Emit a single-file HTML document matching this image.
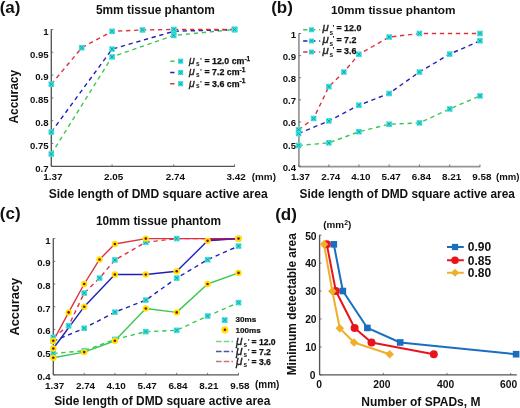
<!DOCTYPE html>
<html><head><meta charset="utf-8"><title>Figure</title>
<style>html,body{margin:0;padding:0;background:#fff;}svg{display:block;filter:blur(0.35px);}text{font-family:"Liberation Sans", Arial, sans-serif;}</style>
</head><body>
<svg width="520" height="408" viewBox="0 0 520 408">
<rect width="520" height="408" fill="#fff"/>
<line x1="51.30" y1="29.20" x2="51.30" y2="166.30" stroke="#555" stroke-width="1.35" />
<line x1="51.30" y1="166.30" x2="234.87" y2="166.30" stroke="#555" stroke-width="1.35" />
<line x1="51.30" y1="29.50" x2="53.30" y2="29.50" stroke="#555" stroke-width="0.8" />
<text x="48.60" y="34.80" font-size="9.6" text-anchor="end" font-weight="bold" fill="#111" >1</text>
<line x1="51.30" y1="52.30" x2="53.30" y2="52.30" stroke="#555" stroke-width="0.8" />
<text x="48.60" y="57.60" font-size="9.6" text-anchor="end" font-weight="bold" fill="#111" >0.95</text>
<line x1="51.30" y1="75.10" x2="53.30" y2="75.10" stroke="#555" stroke-width="0.8" />
<text x="48.60" y="80.40" font-size="9.6" text-anchor="end" font-weight="bold" fill="#111" >0.9</text>
<line x1="51.30" y1="97.90" x2="53.30" y2="97.90" stroke="#555" stroke-width="0.8" />
<text x="48.60" y="103.20" font-size="9.6" text-anchor="end" font-weight="bold" fill="#111" >0.85</text>
<line x1="51.30" y1="120.70" x2="53.30" y2="120.70" stroke="#555" stroke-width="0.8" />
<text x="48.60" y="126.00" font-size="9.6" text-anchor="end" font-weight="bold" fill="#111" >0.8</text>
<line x1="51.30" y1="143.50" x2="53.30" y2="143.50" stroke="#555" stroke-width="0.8" />
<text x="48.60" y="148.80" font-size="9.6" text-anchor="end" font-weight="bold" fill="#111" >0.75</text>
<line x1="51.30" y1="166.30" x2="53.30" y2="166.30" stroke="#555" stroke-width="0.8" />
<text x="48.60" y="171.60" font-size="9.6" text-anchor="end" font-weight="bold" fill="#111" >0.7</text>
<line x1="51.30" y1="166.30" x2="51.30" y2="164.30" stroke="#555" stroke-width="0.8" />
<text x="52.90" y="180.00" font-size="9.9" text-anchor="middle" font-weight="bold" fill="#111" >1.37</text>
<line x1="112.09" y1="166.30" x2="112.09" y2="164.30" stroke="#555" stroke-width="0.8" />
<text x="113.69" y="180.00" font-size="9.9" text-anchor="middle" font-weight="bold" fill="#111" >2.05</text>
<line x1="173.78" y1="166.30" x2="173.78" y2="164.30" stroke="#555" stroke-width="0.8" />
<text x="175.38" y="180.00" font-size="9.9" text-anchor="middle" font-weight="bold" fill="#111" >2.74</text>
<line x1="234.57" y1="166.30" x2="234.57" y2="164.30" stroke="#555" stroke-width="0.8" />
<text x="236.17" y="180.00" font-size="9.9" text-anchor="middle" font-weight="bold" fill="#111" >3.42</text>
<text x="251.80" y="180.00" font-size="9.9" text-anchor="start" font-weight="bold" fill="#111" >(mm)</text>
<text x="95.90" y="14.00" font-size="11.9" text-anchor="start" font-weight="bold" fill="#111" >5mm tissue phantom</text>
<text x="-0.30" y="12.60" font-size="17.0" text-anchor="start" font-weight="bold" fill="#111" >(a)</text>
<text transform="translate(17.9,96.7) rotate(-90)" font-size="11.9" font-weight="bold" text-anchor="middle" fill="#111">Accuracy</text>
<text x="48.70" y="197.80" font-size="12.05" text-anchor="start" font-weight="bold" fill="#111" >Side length of DMD square active area</text>
<polyline points="51.30,153.99 112.09,56.86 173.78,35.43 234.57,29.50" fill="none" stroke="#3cc850" stroke-width="1.4" stroke-dasharray="4.3,3.7" stroke-linejoin="round"/>
<polyline points="51.30,132.10 112.09,49.11 173.78,31.32 234.57,29.50" fill="none" stroke="#2020b8" stroke-width="1.4" stroke-dasharray="4.3,3.7" stroke-linejoin="round"/>
<polyline points="51.30,84.22 81.70,47.74 112.09,31.32 142.49,29.96 173.78,29.50 234.57,29.50" fill="none" stroke="#e03040" stroke-width="1.4" stroke-dasharray="4.3,3.7" stroke-linejoin="round"/>
<rect x="48.50" y="151.19" width="5.6" height="5.6" fill="#3ee0de"/>
<path d="M49.50,152.19L53.10,155.79M53.10,152.19L49.50,155.79" stroke="#1aa0a8" stroke-width="1"/>
<rect x="109.29" y="54.06" width="5.6" height="5.6" fill="#3ee0de"/>
<path d="M110.29,55.06L113.89,58.66M113.89,55.06L110.29,58.66" stroke="#1aa0a8" stroke-width="1"/>
<rect x="170.98" y="32.63" width="5.6" height="5.6" fill="#3ee0de"/>
<path d="M171.98,33.63L175.58,37.23M175.58,33.63L171.98,37.23" stroke="#1aa0a8" stroke-width="1"/>
<rect x="231.77" y="26.70" width="5.6" height="5.6" fill="#3ee0de"/>
<path d="M232.77,27.70L236.37,31.30M236.37,27.70L232.77,31.30" stroke="#1aa0a8" stroke-width="1"/>
<rect x="48.50" y="129.30" width="5.6" height="5.6" fill="#3ee0de"/>
<path d="M49.50,130.30L53.10,133.90M53.10,130.30L49.50,133.90" stroke="#1aa0a8" stroke-width="1"/>
<rect x="109.29" y="46.31" width="5.6" height="5.6" fill="#3ee0de"/>
<path d="M110.29,47.31L113.89,50.91M113.89,47.31L110.29,50.91" stroke="#1aa0a8" stroke-width="1"/>
<rect x="170.98" y="28.52" width="5.6" height="5.6" fill="#3ee0de"/>
<path d="M171.98,29.52L175.58,33.12M175.58,29.52L171.98,33.12" stroke="#1aa0a8" stroke-width="1"/>
<rect x="231.77" y="26.70" width="5.6" height="5.6" fill="#3ee0de"/>
<path d="M232.77,27.70L236.37,31.30M236.37,27.70L232.77,31.30" stroke="#1aa0a8" stroke-width="1"/>
<rect x="48.50" y="81.42" width="5.6" height="5.6" fill="#3ee0de"/>
<path d="M49.50,82.42L53.10,86.02M53.10,82.42L49.50,86.02" stroke="#1aa0a8" stroke-width="1"/>
<rect x="78.90" y="44.94" width="5.6" height="5.6" fill="#3ee0de"/>
<path d="M79.90,45.94L83.50,49.54M83.50,45.94L79.90,49.54" stroke="#1aa0a8" stroke-width="1"/>
<rect x="109.29" y="28.52" width="5.6" height="5.6" fill="#3ee0de"/>
<path d="M110.29,29.52L113.89,33.12M113.89,29.52L110.29,33.12" stroke="#1aa0a8" stroke-width="1"/>
<rect x="139.69" y="27.16" width="5.6" height="5.6" fill="#3ee0de"/>
<path d="M140.69,28.16L144.29,31.76M144.29,28.16L140.69,31.76" stroke="#1aa0a8" stroke-width="1"/>
<rect x="170.98" y="26.70" width="5.6" height="5.6" fill="#3ee0de"/>
<path d="M171.98,27.70L175.58,31.30M175.58,27.70L171.98,31.30" stroke="#1aa0a8" stroke-width="1"/>
<rect x="231.77" y="26.70" width="5.6" height="5.6" fill="#3ee0de"/>
<path d="M232.77,27.70L236.37,31.30M236.37,27.70L232.77,31.30" stroke="#1aa0a8" stroke-width="1"/>
<line x1="170.20" y1="61.20" x2="184.00" y2="61.20" stroke="#3cc850" stroke-width="1.4" stroke-dasharray="4.3,3.7"/>
<rect x="178.00" y="58.60" width="5.2" height="5.2" fill="#3ee0de"/>
<path d="M179.00,59.60L182.20,62.80M182.20,59.60L179.00,62.80" stroke="#1aa0a8" stroke-width="1"/>
<text x="189.00" y="64.10" font-size="10.5" font-family="'Liberation Serif', serif" font-style="italic" fill="#222" stroke="#222" stroke-width="0.35">&#956;</text>
<text x="196.00" y="65.90" font-size="6.5" font-weight="bold" fill="#222">s</text>
<text x="200.00" y="63.10" font-size="8" font-weight="bold" fill="#222">'</text>
<text x="204.50" y="64.10" font-size="8.8" font-weight="bold" fill="#111" stroke="#111" stroke-width="0.25">= 12.0 cm<tspan dy="-3.4" font-size="6.5">-1</tspan></text>
<line x1="170.20" y1="72.50" x2="184.00" y2="72.50" stroke="#2020b8" stroke-width="1.4" stroke-dasharray="4.3,3.7"/>
<rect x="178.00" y="69.90" width="5.2" height="5.2" fill="#3ee0de"/>
<path d="M179.00,70.90L182.20,74.10M182.20,70.90L179.00,74.10" stroke="#1aa0a8" stroke-width="1"/>
<text x="189.00" y="75.40" font-size="10.5" font-family="'Liberation Serif', serif" font-style="italic" fill="#222" stroke="#222" stroke-width="0.35">&#956;</text>
<text x="196.00" y="77.20" font-size="6.5" font-weight="bold" fill="#222">s</text>
<text x="200.00" y="74.40" font-size="8" font-weight="bold" fill="#222">'</text>
<text x="204.50" y="75.40" font-size="8.8" font-weight="bold" fill="#111" stroke="#111" stroke-width="0.25">= 7.2 cm<tspan dy="-3.4" font-size="6.5">-1</tspan></text>
<line x1="170.20" y1="83.70" x2="184.00" y2="83.70" stroke="#e03040" stroke-width="1.4" stroke-dasharray="4.3,3.7"/>
<rect x="178.00" y="81.10" width="5.2" height="5.2" fill="#3ee0de"/>
<path d="M179.00,82.10L182.20,85.30M182.20,82.10L179.00,85.30" stroke="#1aa0a8" stroke-width="1"/>
<text x="189.00" y="86.60" font-size="10.5" font-family="'Liberation Serif', serif" font-style="italic" fill="#222" stroke="#222" stroke-width="0.35">&#956;</text>
<text x="196.00" y="88.40" font-size="6.5" font-weight="bold" fill="#222">s</text>
<text x="200.00" y="85.60" font-size="8" font-weight="bold" fill="#222">'</text>
<text x="204.50" y="86.60" font-size="8.8" font-weight="bold" fill="#111" stroke="#111" stroke-width="0.25">= 3.6 cm<tspan dy="-3.4" font-size="6.5">-1</tspan></text>
<line x1="298.90" y1="33.20" x2="298.90" y2="166.70" stroke="#959595" stroke-width="1.7" />
<line x1="298.90" y1="166.70" x2="480.26" y2="166.70" stroke="#959595" stroke-width="1.7" />
<line x1="298.90" y1="33.50" x2="301.10" y2="33.50" stroke="#666" stroke-width="0.9" />
<text x="296.00" y="37.90" font-size="9.6" text-anchor="end" font-weight="bold" fill="#111" >1</text>
<line x1="298.90" y1="55.63" x2="301.10" y2="55.63" stroke="#666" stroke-width="0.9" />
<text x="296.00" y="60.03" font-size="9.6" text-anchor="end" font-weight="bold" fill="#111" >0.9</text>
<line x1="298.90" y1="77.76" x2="301.10" y2="77.76" stroke="#666" stroke-width="0.9" />
<text x="296.00" y="82.16" font-size="9.6" text-anchor="end" font-weight="bold" fill="#111" >0.8</text>
<line x1="298.90" y1="99.89" x2="301.10" y2="99.89" stroke="#666" stroke-width="0.9" />
<text x="296.00" y="104.29" font-size="9.6" text-anchor="end" font-weight="bold" fill="#111" >0.7</text>
<line x1="298.90" y1="122.02" x2="301.10" y2="122.02" stroke="#666" stroke-width="0.9" />
<text x="296.00" y="126.42" font-size="9.6" text-anchor="end" font-weight="bold" fill="#111" >0.6</text>
<line x1="298.90" y1="144.15" x2="301.10" y2="144.15" stroke="#666" stroke-width="0.9" />
<text x="296.00" y="148.55" font-size="9.6" text-anchor="end" font-weight="bold" fill="#111" >0.5</text>
<line x1="298.90" y1="166.28" x2="301.10" y2="166.28" stroke="#666" stroke-width="0.9" />
<text x="296.00" y="170.68" font-size="9.6" text-anchor="end" font-weight="bold" fill="#111" >0.4</text>
<line x1="298.60" y1="166.70" x2="298.60" y2="164.50" stroke="#666" stroke-width="0.9" />
<text x="300.50" y="179.60" font-size="9.9" text-anchor="middle" font-weight="bold" fill="#111" >1.37</text>
<line x1="328.86" y1="166.70" x2="328.86" y2="164.50" stroke="#666" stroke-width="0.9" />
<text x="330.76" y="179.60" font-size="9.9" text-anchor="middle" font-weight="bold" fill="#111" >2.74</text>
<line x1="358.91" y1="166.70" x2="358.91" y2="164.50" stroke="#666" stroke-width="0.9" />
<text x="360.81" y="179.60" font-size="9.9" text-anchor="middle" font-weight="bold" fill="#111" >4.10</text>
<line x1="389.17" y1="166.70" x2="389.17" y2="164.50" stroke="#666" stroke-width="0.9" />
<text x="391.07" y="179.60" font-size="9.9" text-anchor="middle" font-weight="bold" fill="#111" >5.47</text>
<line x1="419.43" y1="166.70" x2="419.43" y2="164.50" stroke="#666" stroke-width="0.9" />
<text x="421.33" y="179.60" font-size="9.9" text-anchor="middle" font-weight="bold" fill="#111" >6.84</text>
<line x1="449.70" y1="166.70" x2="449.70" y2="164.50" stroke="#666" stroke-width="0.9" />
<text x="451.60" y="179.60" font-size="9.9" text-anchor="middle" font-weight="bold" fill="#111" >8.21</text>
<line x1="479.96" y1="166.70" x2="479.96" y2="164.50" stroke="#666" stroke-width="0.9" />
<text x="481.86" y="179.60" font-size="9.9" text-anchor="middle" font-weight="bold" fill="#111" >9.58</text>
<text x="496.00" y="179.80" font-size="9.6" text-anchor="start" font-weight="bold" fill="#111" >(mm)</text>
<text x="331.00" y="14.40" font-size="11.8" text-anchor="start" font-weight="bold" fill="#111" >10mm tissue phantom</text>
<text x="271.20" y="12.60" font-size="17.0" text-anchor="start" font-weight="bold" fill="#111" >(b)</text>
<text x="299.60" y="198.10" font-size="11.85" text-anchor="start" font-weight="bold" fill="#111" >Side length of DMD square active area</text>
<polyline points="298.60,145.48 328.86,142.82 358.91,131.76 389.17,124.23 419.43,122.91 449.70,108.96 479.96,95.91" fill="none" stroke="#3cc850" stroke-width="1.4" stroke-dasharray="4.3,3.7" stroke-linejoin="round"/>
<polyline points="298.60,133.53 328.86,120.91 358.91,105.20 389.17,93.47 419.43,72.01 449.70,54.08 479.96,40.80" fill="none" stroke="#2020b8" stroke-width="1.4" stroke-dasharray="4.3,3.7" stroke-linejoin="round"/>
<polyline points="298.60,129.77 313.62,118.48 328.86,86.61 343.88,72.01 358.91,54.30 389.17,37.04 419.43,33.50 479.96,33.50" fill="none" stroke="#e03040" stroke-width="1.4" stroke-dasharray="4.3,3.7" stroke-linejoin="round"/>
<rect x="295.80" y="142.68" width="5.6" height="5.6" fill="#3ee0de"/>
<path d="M296.80,143.68L300.40,147.28M300.40,143.68L296.80,147.28" stroke="#1aa0a8" stroke-width="1"/>
<rect x="326.06" y="140.02" width="5.6" height="5.6" fill="#3ee0de"/>
<path d="M327.06,141.02L330.66,144.62M330.66,141.02L327.06,144.62" stroke="#1aa0a8" stroke-width="1"/>
<rect x="356.11" y="128.96" width="5.6" height="5.6" fill="#3ee0de"/>
<path d="M357.11,129.96L360.71,133.56M360.71,129.96L357.11,133.56" stroke="#1aa0a8" stroke-width="1"/>
<rect x="386.37" y="121.43" width="5.6" height="5.6" fill="#3ee0de"/>
<path d="M387.37,122.43L390.97,126.03M390.97,122.43L387.37,126.03" stroke="#1aa0a8" stroke-width="1"/>
<rect x="416.63" y="120.11" width="5.6" height="5.6" fill="#3ee0de"/>
<path d="M417.63,121.11L421.23,124.71M421.23,121.11L417.63,124.71" stroke="#1aa0a8" stroke-width="1"/>
<rect x="446.90" y="106.16" width="5.6" height="5.6" fill="#3ee0de"/>
<path d="M447.90,107.16L451.50,110.76M451.50,107.16L447.90,110.76" stroke="#1aa0a8" stroke-width="1"/>
<rect x="477.16" y="93.11" width="5.6" height="5.6" fill="#3ee0de"/>
<path d="M478.16,94.11L481.76,97.71M481.76,94.11L478.16,97.71" stroke="#1aa0a8" stroke-width="1"/>
<rect x="295.80" y="130.73" width="5.6" height="5.6" fill="#3ee0de"/>
<path d="M296.80,131.73L300.40,135.33M300.40,131.73L296.80,135.33" stroke="#1aa0a8" stroke-width="1"/>
<rect x="326.06" y="118.11" width="5.6" height="5.6" fill="#3ee0de"/>
<path d="M327.06,119.11L330.66,122.71M330.66,119.11L327.06,122.71" stroke="#1aa0a8" stroke-width="1"/>
<rect x="356.11" y="102.40" width="5.6" height="5.6" fill="#3ee0de"/>
<path d="M357.11,103.40L360.71,107.00M360.71,103.40L357.11,107.00" stroke="#1aa0a8" stroke-width="1"/>
<rect x="386.37" y="90.67" width="5.6" height="5.6" fill="#3ee0de"/>
<path d="M387.37,91.67L390.97,95.27M390.97,91.67L387.37,95.27" stroke="#1aa0a8" stroke-width="1"/>
<rect x="416.63" y="69.21" width="5.6" height="5.6" fill="#3ee0de"/>
<path d="M417.63,70.21L421.23,73.81M421.23,70.21L417.63,73.81" stroke="#1aa0a8" stroke-width="1"/>
<rect x="446.90" y="51.28" width="5.6" height="5.6" fill="#3ee0de"/>
<path d="M447.90,52.28L451.50,55.88M451.50,52.28L447.90,55.88" stroke="#1aa0a8" stroke-width="1"/>
<rect x="477.16" y="38.00" width="5.6" height="5.6" fill="#3ee0de"/>
<path d="M478.16,39.00L481.76,42.60M481.76,39.00L478.16,42.60" stroke="#1aa0a8" stroke-width="1"/>
<rect x="295.80" y="126.97" width="5.6" height="5.6" fill="#3ee0de"/>
<path d="M296.80,127.97L300.40,131.57M300.40,127.97L296.80,131.57" stroke="#1aa0a8" stroke-width="1"/>
<rect x="310.82" y="115.68" width="5.6" height="5.6" fill="#3ee0de"/>
<path d="M311.82,116.68L315.42,120.28M315.42,116.68L311.82,120.28" stroke="#1aa0a8" stroke-width="1"/>
<rect x="326.06" y="83.81" width="5.6" height="5.6" fill="#3ee0de"/>
<path d="M327.06,84.81L330.66,88.41M330.66,84.81L327.06,88.41" stroke="#1aa0a8" stroke-width="1"/>
<rect x="341.08" y="69.21" width="5.6" height="5.6" fill="#3ee0de"/>
<path d="M342.08,70.21L345.68,73.81M345.68,70.21L342.08,73.81" stroke="#1aa0a8" stroke-width="1"/>
<rect x="356.11" y="51.50" width="5.6" height="5.6" fill="#3ee0de"/>
<path d="M357.11,52.50L360.71,56.10M360.71,52.50L357.11,56.10" stroke="#1aa0a8" stroke-width="1"/>
<rect x="386.37" y="34.24" width="5.6" height="5.6" fill="#3ee0de"/>
<path d="M387.37,35.24L390.97,38.84M390.97,35.24L387.37,38.84" stroke="#1aa0a8" stroke-width="1"/>
<rect x="416.63" y="30.70" width="5.6" height="5.6" fill="#3ee0de"/>
<path d="M417.63,31.70L421.23,35.30M421.23,31.70L417.63,35.30" stroke="#1aa0a8" stroke-width="1"/>
<rect x="477.16" y="30.70" width="5.6" height="5.6" fill="#3ee0de"/>
<path d="M478.16,31.70L481.76,35.30M481.76,31.70L478.16,35.30" stroke="#1aa0a8" stroke-width="1"/>
<line x1="303.10" y1="29.75" x2="320.20" y2="29.75" stroke="#3cc850" stroke-width="1.4" stroke-dasharray="4.3,3.7"/>
<rect x="309.00" y="27.25" width="5.0" height="5.0" fill="#3ee0de"/>
<path d="M310.00,28.25L313.00,31.25M313.00,28.25L310.00,31.25" stroke="#1aa0a8" stroke-width="1"/>
<text x="322.40" y="31.45" font-size="11.5" font-family="'Liberation Serif', serif" font-style="italic" fill="#222" stroke="#222" stroke-width="0.35">&#956;</text>
<text x="329.60" y="34.85" font-size="6.5" font-weight="bold" fill="#222">s</text>
<text x="332.60" y="29.85" font-size="8" font-weight="bold" fill="#222">'</text>
<text x="336.40" y="31.45" font-size="8.9" font-weight="bold" fill="#111" stroke="#111" stroke-width="0.25">= 12.0</text>
<line x1="303.10" y1="41.00" x2="320.20" y2="41.00" stroke="#2020b8" stroke-width="1.4" stroke-dasharray="4.3,3.7"/>
<rect x="309.00" y="38.50" width="5.0" height="5.0" fill="#3ee0de"/>
<path d="M310.00,39.50L313.00,42.50M313.00,39.50L310.00,42.50" stroke="#1aa0a8" stroke-width="1"/>
<text x="322.40" y="42.70" font-size="11.5" font-family="'Liberation Serif', serif" font-style="italic" fill="#222" stroke="#222" stroke-width="0.35">&#956;</text>
<text x="329.60" y="46.10" font-size="6.5" font-weight="bold" fill="#222">s</text>
<text x="332.60" y="41.10" font-size="8" font-weight="bold" fill="#222">'</text>
<text x="336.40" y="42.70" font-size="8.9" font-weight="bold" fill="#111" stroke="#111" stroke-width="0.25">= 7.2</text>
<line x1="303.10" y1="52.00" x2="320.20" y2="52.00" stroke="#e03040" stroke-width="1.4" stroke-dasharray="4.3,3.7"/>
<rect x="309.00" y="49.50" width="5.0" height="5.0" fill="#3ee0de"/>
<path d="M310.00,50.50L313.00,53.50M313.00,50.50L310.00,53.50" stroke="#1aa0a8" stroke-width="1"/>
<text x="322.40" y="53.70" font-size="11.5" font-family="'Liberation Serif', serif" font-style="italic" fill="#222" stroke="#222" stroke-width="0.35">&#956;</text>
<text x="329.60" y="57.10" font-size="6.5" font-weight="bold" fill="#222">s</text>
<text x="332.60" y="52.10" font-size="8" font-weight="bold" fill="#222">'</text>
<text x="336.40" y="53.70" font-size="8.9" font-weight="bold" fill="#111" stroke="#111" stroke-width="0.25">= 3.6</text>
<line x1="53.30" y1="238.30" x2="53.30" y2="374.80" stroke="#555" stroke-width="1.35" />
<line x1="53.30" y1="374.80" x2="238.82" y2="374.80" stroke="#555" stroke-width="1.35" />
<line x1="53.30" y1="238.60" x2="55.30" y2="238.60" stroke="#555" stroke-width="0.8" />
<text x="50.60" y="243.60" font-size="9.6" text-anchor="end" font-weight="bold" fill="#111" >1</text>
<line x1="53.30" y1="261.30" x2="55.30" y2="261.30" stroke="#555" stroke-width="0.8" />
<text x="50.60" y="266.30" font-size="9.6" text-anchor="end" font-weight="bold" fill="#111" >0.9</text>
<line x1="53.30" y1="284.00" x2="55.30" y2="284.00" stroke="#555" stroke-width="0.8" />
<text x="50.60" y="289.00" font-size="9.6" text-anchor="end" font-weight="bold" fill="#111" >0.8</text>
<line x1="53.30" y1="306.70" x2="55.30" y2="306.70" stroke="#555" stroke-width="0.8" />
<text x="50.60" y="311.70" font-size="9.6" text-anchor="end" font-weight="bold" fill="#111" >0.7</text>
<line x1="53.30" y1="329.40" x2="55.30" y2="329.40" stroke="#555" stroke-width="0.8" />
<text x="50.60" y="334.40" font-size="9.6" text-anchor="end" font-weight="bold" fill="#111" >0.6</text>
<line x1="53.30" y1="352.10" x2="55.30" y2="352.10" stroke="#555" stroke-width="0.8" />
<text x="50.60" y="357.10" font-size="9.6" text-anchor="end" font-weight="bold" fill="#111" >0.5</text>
<line x1="53.30" y1="374.80" x2="55.30" y2="374.80" stroke="#555" stroke-width="0.8" />
<text x="50.60" y="379.80" font-size="9.6" text-anchor="end" font-weight="bold" fill="#111" >0.4</text>
<line x1="53.30" y1="374.80" x2="53.30" y2="372.80" stroke="#555" stroke-width="0.8" />
<text x="54.60" y="388.60" font-size="9.9" text-anchor="middle" font-weight="bold" fill="#111" >1.37</text>
<line x1="84.21" y1="374.80" x2="84.21" y2="372.80" stroke="#555" stroke-width="0.8" />
<text x="85.51" y="388.60" font-size="9.9" text-anchor="middle" font-weight="bold" fill="#111" >2.74</text>
<line x1="114.89" y1="374.80" x2="114.89" y2="372.80" stroke="#555" stroke-width="0.8" />
<text x="116.19" y="388.60" font-size="9.9" text-anchor="middle" font-weight="bold" fill="#111" >4.10</text>
<line x1="145.80" y1="374.80" x2="145.80" y2="372.80" stroke="#555" stroke-width="0.8" />
<text x="147.10" y="388.60" font-size="9.9" text-anchor="middle" font-weight="bold" fill="#111" >5.47</text>
<line x1="176.70" y1="374.80" x2="176.70" y2="372.80" stroke="#555" stroke-width="0.8" />
<text x="178.00" y="388.60" font-size="9.9" text-anchor="middle" font-weight="bold" fill="#111" >6.84</text>
<line x1="207.61" y1="374.80" x2="207.61" y2="372.80" stroke="#555" stroke-width="0.8" />
<text x="208.91" y="388.60" font-size="9.9" text-anchor="middle" font-weight="bold" fill="#111" >8.21</text>
<line x1="238.52" y1="374.80" x2="238.52" y2="372.80" stroke="#555" stroke-width="0.8" />
<text x="239.82" y="388.60" font-size="9.9" text-anchor="middle" font-weight="bold" fill="#111" >9.58</text>
<text x="255.00" y="388.40" font-size="10.0" text-anchor="start" font-weight="bold" fill="#111" >(mm)</text>
<text x="95.90" y="225.30" font-size="11.85" text-anchor="start" font-weight="bold" fill="#111" >10mm tissue phantom</text>
<text x="-0.20" y="218.90" font-size="17.0" text-anchor="start" font-weight="bold" fill="#111" >(c)</text>
<text transform="translate(19.4,306.7) rotate(-90)" font-size="12.8" font-weight="bold" text-anchor="middle" fill="#111">Accuracy</text>
<text x="54.20" y="405.10" font-size="11.9" text-anchor="start" font-weight="bold" fill="#111" >Side length of DMD square active area</text>
<polyline points="53.30,353.46 84.21,350.74 114.89,339.39 145.80,331.67 176.70,330.31 207.61,316.01 238.52,302.61" fill="none" stroke="#3cc850" stroke-width="1.4" stroke-dasharray="4.3,3.7" stroke-linejoin="round"/>
<polyline points="53.30,341.20 84.21,328.26 114.89,312.15 145.80,300.12 176.70,278.10 207.61,259.71 238.52,246.09" fill="none" stroke="#2020b8" stroke-width="1.4" stroke-dasharray="4.3,3.7" stroke-linejoin="round"/>
<polyline points="53.30,337.35 68.64,325.77 84.21,293.08 99.55,278.10 114.89,259.94 145.80,242.23 176.70,238.60 238.52,238.60" fill="none" stroke="#e03040" stroke-width="1.4" stroke-dasharray="4.3,3.7" stroke-linejoin="round"/>
<polyline points="53.30,357.77 84.21,352.10 114.89,340.75 145.80,308.52 176.70,312.38 207.61,284.00 238.52,272.88" fill="none" stroke="#3cc850" stroke-width="1.4" stroke-linejoin="round"/>
<polyline points="53.30,348.47 84.21,306.70 114.89,274.47 145.80,274.47 176.70,271.29 207.61,240.87 238.52,238.60" fill="none" stroke="#2020b8" stroke-width="1.4" stroke-linejoin="round"/>
<polyline points="53.30,340.75 68.64,312.38 84.21,284.00 99.55,259.48 114.89,244.05 145.80,238.60 238.52,238.60" fill="none" stroke="#e03040" stroke-width="1.4" stroke-linejoin="round"/>
<line x1="207.61" y1="239.73" x2="238.52" y2="238.60" stroke="#7a1880" stroke-width="1.6" />
<rect x="50.50" y="350.66" width="5.6" height="5.6" fill="#3ee0de"/>
<path d="M51.50,351.66L55.10,355.26M55.10,351.66L51.50,355.26" stroke="#1aa0a8" stroke-width="1"/>
<rect x="81.41" y="347.94" width="5.6" height="5.6" fill="#3ee0de"/>
<path d="M82.41,348.94L86.01,352.54M86.01,348.94L82.41,352.54" stroke="#1aa0a8" stroke-width="1"/>
<rect x="112.09" y="336.59" width="5.6" height="5.6" fill="#3ee0de"/>
<path d="M113.09,337.59L116.69,341.19M116.69,337.59L113.09,341.19" stroke="#1aa0a8" stroke-width="1"/>
<rect x="143.00" y="328.87" width="5.6" height="5.6" fill="#3ee0de"/>
<path d="M144.00,329.87L147.60,333.47M147.60,329.87L144.00,333.47" stroke="#1aa0a8" stroke-width="1"/>
<rect x="173.90" y="327.51" width="5.6" height="5.6" fill="#3ee0de"/>
<path d="M174.90,328.51L178.50,332.11M178.50,328.51L174.90,332.11" stroke="#1aa0a8" stroke-width="1"/>
<rect x="204.81" y="313.21" width="5.6" height="5.6" fill="#3ee0de"/>
<path d="M205.81,314.21L209.41,317.81M209.41,314.21L205.81,317.81" stroke="#1aa0a8" stroke-width="1"/>
<rect x="235.72" y="299.81" width="5.6" height="5.6" fill="#3ee0de"/>
<path d="M236.72,300.81L240.32,304.41M240.32,300.81L236.72,304.41" stroke="#1aa0a8" stroke-width="1"/>
<rect x="50.50" y="338.40" width="5.6" height="5.6" fill="#3ee0de"/>
<path d="M51.50,339.40L55.10,343.00M55.10,339.40L51.50,343.00" stroke="#1aa0a8" stroke-width="1"/>
<rect x="81.41" y="325.46" width="5.6" height="5.6" fill="#3ee0de"/>
<path d="M82.41,326.46L86.01,330.06M86.01,326.46L82.41,330.06" stroke="#1aa0a8" stroke-width="1"/>
<rect x="112.09" y="309.35" width="5.6" height="5.6" fill="#3ee0de"/>
<path d="M113.09,310.35L116.69,313.95M116.69,310.35L113.09,313.95" stroke="#1aa0a8" stroke-width="1"/>
<rect x="143.00" y="297.32" width="5.6" height="5.6" fill="#3ee0de"/>
<path d="M144.00,298.32L147.60,301.92M147.60,298.32L144.00,301.92" stroke="#1aa0a8" stroke-width="1"/>
<rect x="173.90" y="275.30" width="5.6" height="5.6" fill="#3ee0de"/>
<path d="M174.90,276.30L178.50,279.90M178.50,276.30L174.90,279.90" stroke="#1aa0a8" stroke-width="1"/>
<rect x="204.81" y="256.91" width="5.6" height="5.6" fill="#3ee0de"/>
<path d="M205.81,257.91L209.41,261.51M209.41,257.91L205.81,261.51" stroke="#1aa0a8" stroke-width="1"/>
<rect x="235.72" y="243.29" width="5.6" height="5.6" fill="#3ee0de"/>
<path d="M236.72,244.29L240.32,247.89M240.32,244.29L236.72,247.89" stroke="#1aa0a8" stroke-width="1"/>
<rect x="50.50" y="334.55" width="5.6" height="5.6" fill="#3ee0de"/>
<path d="M51.50,335.55L55.10,339.15M55.10,335.55L51.50,339.15" stroke="#1aa0a8" stroke-width="1"/>
<rect x="65.84" y="322.97" width="5.6" height="5.6" fill="#3ee0de"/>
<path d="M66.84,323.97L70.44,327.57M70.44,323.97L66.84,327.57" stroke="#1aa0a8" stroke-width="1"/>
<rect x="81.41" y="290.28" width="5.6" height="5.6" fill="#3ee0de"/>
<path d="M82.41,291.28L86.01,294.88M86.01,291.28L82.41,294.88" stroke="#1aa0a8" stroke-width="1"/>
<rect x="96.75" y="275.30" width="5.6" height="5.6" fill="#3ee0de"/>
<path d="M97.75,276.30L101.35,279.90M101.35,276.30L97.75,279.90" stroke="#1aa0a8" stroke-width="1"/>
<rect x="112.09" y="257.14" width="5.6" height="5.6" fill="#3ee0de"/>
<path d="M113.09,258.14L116.69,261.74M116.69,258.14L113.09,261.74" stroke="#1aa0a8" stroke-width="1"/>
<rect x="143.00" y="239.43" width="5.6" height="5.6" fill="#3ee0de"/>
<path d="M144.00,240.43L147.60,244.03M147.60,240.43L144.00,244.03" stroke="#1aa0a8" stroke-width="1"/>
<rect x="173.90" y="235.80" width="5.6" height="5.6" fill="#3ee0de"/>
<path d="M174.90,236.80L178.50,240.40M178.50,236.80L174.90,240.40" stroke="#1aa0a8" stroke-width="1"/>
<rect x="235.72" y="235.80" width="5.6" height="5.6" fill="#3ee0de"/>
<path d="M236.72,236.80L240.32,240.40M240.32,236.80L236.72,240.40" stroke="#1aa0a8" stroke-width="1"/>
<circle cx="53.30" cy="357.77" r="3.2" fill="#ffe400"/>
<circle cx="53.30" cy="357.77" r="1.3" fill="#8a0c00"/>
<circle cx="84.21" cy="352.10" r="3.2" fill="#ffe400"/>
<circle cx="84.21" cy="352.10" r="1.3" fill="#8a0c00"/>
<circle cx="114.89" cy="340.75" r="3.2" fill="#ffe400"/>
<circle cx="114.89" cy="340.75" r="1.3" fill="#8a0c00"/>
<circle cx="145.80" cy="308.52" r="3.2" fill="#ffe400"/>
<circle cx="145.80" cy="308.52" r="1.3" fill="#8a0c00"/>
<circle cx="176.70" cy="312.38" r="3.2" fill="#ffe400"/>
<circle cx="176.70" cy="312.38" r="1.3" fill="#8a0c00"/>
<circle cx="207.61" cy="284.00" r="3.2" fill="#ffe400"/>
<circle cx="207.61" cy="284.00" r="1.3" fill="#8a0c00"/>
<circle cx="238.52" cy="272.88" r="3.2" fill="#ffe400"/>
<circle cx="238.52" cy="272.88" r="1.3" fill="#8a0c00"/>
<circle cx="53.30" cy="348.47" r="3.2" fill="#ffe400"/>
<circle cx="53.30" cy="348.47" r="1.3" fill="#8a0c00"/>
<circle cx="84.21" cy="306.70" r="3.2" fill="#ffe400"/>
<circle cx="84.21" cy="306.70" r="1.3" fill="#8a0c00"/>
<circle cx="114.89" cy="274.47" r="3.2" fill="#ffe400"/>
<circle cx="114.89" cy="274.47" r="1.3" fill="#8a0c00"/>
<circle cx="145.80" cy="274.47" r="3.2" fill="#ffe400"/>
<circle cx="145.80" cy="274.47" r="1.3" fill="#8a0c00"/>
<circle cx="176.70" cy="271.29" r="3.2" fill="#ffe400"/>
<circle cx="176.70" cy="271.29" r="1.3" fill="#8a0c00"/>
<circle cx="207.61" cy="240.87" r="3.2" fill="#ffe400"/>
<circle cx="207.61" cy="240.87" r="1.3" fill="#8a0c00"/>
<circle cx="238.52" cy="238.60" r="3.2" fill="#ffe400"/>
<circle cx="238.52" cy="238.60" r="1.3" fill="#8a0c00"/>
<circle cx="53.30" cy="340.75" r="3.2" fill="#ffe400"/>
<circle cx="53.30" cy="340.75" r="1.3" fill="#8a0c00"/>
<circle cx="68.64" cy="312.38" r="3.2" fill="#ffe400"/>
<circle cx="68.64" cy="312.38" r="1.3" fill="#8a0c00"/>
<circle cx="84.21" cy="284.00" r="3.2" fill="#ffe400"/>
<circle cx="84.21" cy="284.00" r="1.3" fill="#8a0c00"/>
<circle cx="99.55" cy="259.48" r="3.2" fill="#ffe400"/>
<circle cx="99.55" cy="259.48" r="1.3" fill="#8a0c00"/>
<circle cx="114.89" cy="244.05" r="3.2" fill="#ffe400"/>
<circle cx="114.89" cy="244.05" r="1.3" fill="#8a0c00"/>
<circle cx="145.80" cy="238.60" r="3.2" fill="#ffe400"/>
<circle cx="145.80" cy="238.60" r="1.3" fill="#8a0c00"/>
<circle cx="238.52" cy="238.60" r="3.2" fill="#ffe400"/>
<circle cx="238.52" cy="238.60" r="1.3" fill="#8a0c00"/>
<rect x="221.80" y="317.20" width="5.8" height="5.8" fill="#3ee0de"/>
<path d="M222.80,318.20L226.60,322.00M226.60,318.20L222.80,322.00" stroke="#1aa0a8" stroke-width="1"/>
<text x="235.60" y="322.40" font-size="8.1" text-anchor="start" font-weight="bold" fill="#111" stroke="#111" stroke-width="0.2">30ms</text>
<circle cx="224.90" cy="329.80" r="3.6" fill="#ffe400"/>
<circle cx="224.90" cy="329.80" r="1.3" fill="#8a0c00"/>
<text x="235.60" y="332.60" font-size="8.1" text-anchor="start" font-weight="bold" fill="#111" stroke="#111" stroke-width="0.2">100ms</text>
<line x1="216.00" y1="341.50" x2="233.00" y2="341.50" stroke="#78d488" stroke-width="1.5" stroke-dasharray="5.6,2.1"/>
<text x="235.90" y="344.60" font-size="12" font-family="'Liberation Serif', serif" font-style="italic" fill="#222" stroke="#222" stroke-width="0.35">&#956;</text>
<text x="243.60" y="347.00" font-size="6.5" font-weight="bold" fill="#222">s</text>
<text x="247.80" y="343.60" font-size="8" font-weight="bold" fill="#222">'</text>
<text x="251.50" y="344.60" font-size="8.6" font-weight="bold" fill="#111" stroke="#111" stroke-width="0.25">= 12.0</text>
<line x1="216.00" y1="351.50" x2="233.00" y2="351.50" stroke="#5050a8" stroke-width="1.5" stroke-dasharray="5.6,2.1"/>
<text x="235.90" y="354.60" font-size="12" font-family="'Liberation Serif', serif" font-style="italic" fill="#222" stroke="#222" stroke-width="0.35">&#956;</text>
<text x="243.60" y="357.00" font-size="6.5" font-weight="bold" fill="#222">s</text>
<text x="247.80" y="353.60" font-size="8" font-weight="bold" fill="#222">'</text>
<text x="251.50" y="354.60" font-size="8.6" font-weight="bold" fill="#111" stroke="#111" stroke-width="0.25">= 7.2</text>
<line x1="216.00" y1="361.50" x2="233.00" y2="361.50" stroke="#d07070" stroke-width="1.5" stroke-dasharray="5.6,2.1"/>
<text x="235.90" y="364.60" font-size="12" font-family="'Liberation Serif', serif" font-style="italic" fill="#222" stroke="#222" stroke-width="0.35">&#956;</text>
<text x="243.60" y="367.00" font-size="6.5" font-weight="bold" fill="#222">s</text>
<text x="247.80" y="363.60" font-size="8" font-weight="bold" fill="#222">'</text>
<text x="251.50" y="364.60" font-size="8.6" font-weight="bold" fill="#111" stroke="#111" stroke-width="0.25">= 3.6</text>
<line x1="319.60" y1="234.80" x2="319.60" y2="374.90" stroke="#555" stroke-width="1.35" />
<line x1="319.60" y1="374.90" x2="516.80" y2="374.90" stroke="#555" stroke-width="1.35" />
<line x1="319.60" y1="374.90" x2="321.60" y2="374.90" stroke="#555" stroke-width="0.8" />
<text x="315.40" y="379.30" font-size="10.3" text-anchor="end" font-weight="bold" fill="#111" >0</text>
<line x1="319.60" y1="346.94" x2="321.60" y2="346.94" stroke="#555" stroke-width="0.8" />
<text x="316.60" y="351.34" font-size="10.3" text-anchor="end" font-weight="bold" fill="#111" >10</text>
<line x1="319.60" y1="318.98" x2="321.60" y2="318.98" stroke="#555" stroke-width="0.8" />
<text x="316.60" y="323.38" font-size="10.3" text-anchor="end" font-weight="bold" fill="#111" >20</text>
<line x1="319.60" y1="291.02" x2="321.60" y2="291.02" stroke="#555" stroke-width="0.8" />
<text x="316.60" y="295.42" font-size="10.3" text-anchor="end" font-weight="bold" fill="#111" >30</text>
<line x1="319.60" y1="263.06" x2="321.60" y2="263.06" stroke="#555" stroke-width="0.8" />
<text x="316.60" y="267.46" font-size="10.3" text-anchor="end" font-weight="bold" fill="#111" >40</text>
<line x1="319.60" y1="235.10" x2="321.60" y2="235.10" stroke="#555" stroke-width="0.8" />
<text x="316.60" y="239.50" font-size="10.3" text-anchor="end" font-weight="bold" fill="#111" >50</text>
<line x1="319.60" y1="374.90" x2="319.60" y2="372.90" stroke="#555" stroke-width="0.8" />
<text x="319.20" y="388.30" font-size="10.3" text-anchor="middle" font-weight="bold" fill="#111" >0</text>
<line x1="383.30" y1="374.90" x2="383.30" y2="372.90" stroke="#555" stroke-width="0.8" />
<text x="381.80" y="388.30" font-size="10.3" text-anchor="middle" font-weight="bold" fill="#111" >200</text>
<line x1="447.00" y1="374.90" x2="447.00" y2="372.90" stroke="#555" stroke-width="0.8" />
<text x="445.60" y="388.30" font-size="10.3" text-anchor="middle" font-weight="bold" fill="#111" >400</text>
<line x1="510.70" y1="374.90" x2="510.70" y2="372.90" stroke="#555" stroke-width="0.8" />
<text x="508.60" y="388.30" font-size="10.3" text-anchor="middle" font-weight="bold" fill="#111" >600</text>
<text x="323.30" y="228.20" font-size="9.9" text-anchor="start" font-weight="bold" fill="#111" >(mm<tspan font-size="6.8" dy="-3.6">2</tspan><tspan dy="3.6">)</tspan></text>
<text x="275.20" y="219.60" font-size="17.0" text-anchor="start" font-weight="bold" fill="#111" >(d)</text>
<text transform="translate(296.0,375.3) rotate(-90)" font-size="11.9" font-weight="bold" fill="#111">Minimum detectable area</text>
<text x="361.30" y="405.90" font-size="12.0" text-anchor="start" font-weight="bold" fill="#111" >Number of SPADs, M</text>
<polyline points="333.81,244.33 342.85,291.02 367.38,327.93 400.18,342.47 516.11,354.21" fill="none" stroke="#1a6ec0" stroke-width="2.0" stroke-linejoin="round"/>
<rect x="330.51" y="241.03" width="6.60" height="6.60" fill="#1a6ec0"/>
<rect x="339.55" y="287.72" width="6.60" height="6.60" fill="#1a6ec0"/>
<rect x="364.07" y="324.63" width="6.60" height="6.60" fill="#1a6ec0"/>
<rect x="396.88" y="339.17" width="6.60" height="6.60" fill="#1a6ec0"/>
<rect x="512.81" y="350.91" width="6.60" height="6.60" fill="#1a6ec0"/>
<polyline points="326.80,244.33 335.84,291.02 354.64,327.93 371.52,342.47 433.81,354.21" fill="none" stroke="#e8141c" stroke-width="2.0" stroke-linejoin="round"/>
<circle cx="326.80" cy="244.33" r="4.00" fill="#e8141c"/>
<circle cx="335.84" cy="291.02" r="4.00" fill="#e8141c"/>
<circle cx="354.64" cy="327.93" r="4.00" fill="#e8141c"/>
<circle cx="371.52" cy="342.47" r="4.00" fill="#e8141c"/>
<circle cx="433.81" cy="354.21" r="4.00" fill="#e8141c"/>
<polyline points="324.06,244.33 332.34,291.30 339.79,328.21 354.00,342.47 389.67,354.21" fill="none" stroke="#eeb02a" stroke-width="2.0" stroke-linejoin="round"/>
<path d="M324.06,240.03L328.36,244.33L324.06,248.63L319.76,244.33Z" fill="#eeb02a"/>
<path d="M332.34,287.00L336.64,291.30L332.34,295.60L328.04,291.30Z" fill="#eeb02a"/>
<path d="M339.79,323.91L344.09,328.21L339.79,332.51L335.49,328.21Z" fill="#eeb02a"/>
<path d="M354.00,338.17L358.30,342.47L354.00,346.77L349.70,342.47Z" fill="#eeb02a"/>
<path d="M389.67,349.91L393.97,354.21L389.67,358.51L385.37,354.21Z" fill="#eeb02a"/>
<line x1="447.00" y1="247.00" x2="463.80" y2="247.00" stroke="#1a6ec0" stroke-width="2.0" />
<rect x="451.87" y="243.87" width="6.27" height="6.27" fill="#1a6ec0"/>
<text x="467.80" y="251.40" font-size="12.0" text-anchor="start" font-weight="bold" fill="#111" >0.90</text>
<line x1="447.00" y1="260.25" x2="463.80" y2="260.25" stroke="#e8141c" stroke-width="2.0" />
<circle cx="455.00" cy="260.25" r="3.80" fill="#e8141c"/>
<text x="467.80" y="264.65" font-size="12.0" text-anchor="start" font-weight="bold" fill="#111" >0.85</text>
<line x1="447.00" y1="272.75" x2="463.80" y2="272.75" stroke="#eeb02a" stroke-width="2.0" />
<path d="M455.00,268.67L459.08,272.75L455.00,276.83L450.92,272.75Z" fill="#eeb02a"/>
<text x="467.80" y="277.15" font-size="12.0" text-anchor="start" font-weight="bold" fill="#111" >0.80</text>
</svg>
</body></html>
